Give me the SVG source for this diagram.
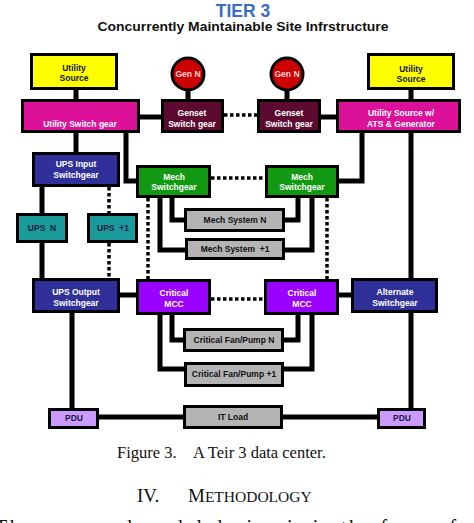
<svg xmlns="http://www.w3.org/2000/svg" width="474" height="523" viewBox="0 0 474 523">
<defs>
<style>
.bx{stroke:#000;stroke-width:3}
.yl{fill:#ffff00}
.mg{fill:#dd1199}
.mr{fill:#5c0a30}
.bl{fill:#30309a}
.gr{fill:#119911}
.tl{fill:#1a9a9a}
.gy{fill:#b4b4b4}
.pu{fill:#9900ff}
.lv{fill:#cc99ff}
.rd{fill:#cc0000}
.t{font-family:"Liberation Sans",Arial,sans-serif;font-weight:bold;font-size:8.5px;text-anchor:middle;dominant-baseline:central}
.w{fill:#ffffff}
.k{fill:#111111}
.n{fill:#1a1a40}
.ln{fill:none;stroke:#000;stroke-width:5}
.dt{fill:none;stroke:#000;stroke-width:3.5;stroke-dasharray:3.5 2.5}
</style>
</defs>
<rect width="474" height="523" fill="#ffffff"/>
<text x="243" y="16.5" font-family="Liberation Sans,Arial,sans-serif" font-weight="bold" font-size="17.5" fill="#3b6cc4" text-anchor="middle">TIER 3</text>
<text x="243" y="31" font-family="Liberation Sans,Arial,sans-serif" font-weight="bold" font-size="12.5" fill="#111" text-anchor="middle" textLength="291" lengthAdjust="spacingAndGlyphs">Concurrently Maintainable Site Infrstructure</text>

<g id="connectors">
<path class="ln" d="M76 90V99M411 90V99M188 91V99M287 91V99"/>
<path class="ln" d="M140 117H161M321 117H336"/>
<path class="ln" d="M76 133V152M126 133V181H136M362 133V181H339M411 133V278"/>
<path class="ln" d="M42 187V213M42 243V278"/>
<path class="ln" d="M172 198V220H184M160 198V250H185M298 198V220H285M312 198V250H285"/>
<path class="ln" d="M120 295H136M339 295H351"/>
<path class="ln" d="M172 315V340H183M160 315V369H184M298 315V340H284M312 315V369H284"/>
<path class="ln" d="M72 313V408M411 313V408M99 417H183M283 417H377"/>
<path class="dt" d="M224 115H257M211 178H265M211 299H264"/>
<path class="dt" d="M109 187V213M109 243V278M148 198V279M327 198V279"/>
</g>

<g id="utility-source-left"><rect class="bx yl" x="31.5" y="54.5" width="85" height="34"/><text class="t k" x="74" y="68">Utility</text><text class="t k" x="74" y="78">Source</text></g>
<g id="utility-source-right"><rect class="bx yl" x="368.5" y="54.5" width="85" height="34"/><text class="t k" x="411" y="69">Utility</text><text class="t k" x="411" y="79">Source</text></g>
<g id="gen-n-left"><circle class="bx rd" cx="188" cy="74" r="16"/><text class="t" fill="#ffd6d6" x="188" y="74">Gen N</text></g>
<g id="gen-n-right"><circle class="bx rd" cx="287" cy="74" r="16"/><text class="t" fill="#ffd6d6" x="287" y="74">Gen N</text></g>
<g id="utility-switch-gear"><rect class="bx mg" x="22.5" y="100.5" width="116" height="31"/><text class="t w" x="80" y="124">Utility Switch gear</text></g>
<g id="genset-switch-gear-left"><rect class="bx mr" x="162.5" y="100.5" width="60" height="31"/><text class="t w" x="192" y="113">Genset</text><text class="t w" x="192" y="124">Switch gear</text></g>
<g id="genset-switch-gear-right"><rect class="bx mr" x="258.5" y="100.5" width="61" height="31"/><text class="t w" x="289" y="113">Genset</text><text class="t w" x="289" y="124">Switch gear</text></g>
<g id="utility-source-ats"><rect class="bx mg" x="337.5" y="100.5" width="122" height="31"/><text class="t w" x="401" y="113">Utility Source w/</text><text class="t w" x="401" y="124">ATS &amp; Generator</text></g>
<g id="ups-input-switchgear"><rect class="bx bl" x="33.5" y="153.5" width="85" height="32"/><text class="t w" x="76" y="164">UPS Input</text><text class="t w" x="76" y="175">Switchgear</text></g>
<g id="mech-switchgear-left"><rect class="bx gr" x="137.5" y="166.5" width="72" height="30"/><text class="t w" x="174" y="177">Mech</text><text class="t w" x="174" y="187">Switchgear</text></g>
<g id="mech-switchgear-right"><rect class="bx gr" x="266.5" y="166.5" width="71" height="30"/><text class="t w" x="302" y="177">Mech</text><text class="t w" x="302" y="187">Switchgear</text></g>
<g id="ups-n"><rect class="bx tl" x="17.5" y="214.5" width="49" height="27"/><text class="t n" x="42" y="228" xml:space="preserve">UPS  N</text></g>
<g id="ups-plus1"><rect class="bx tl" x="88.5" y="214.5" width="48" height="27"/><text class="t n" x="113" y="228" xml:space="preserve">UPS  +1</text></g>
<g id="mech-system-n"><rect class="bx gy" x="185.5" y="209.5" width="98" height="21"/><text class="t k" x="235" y="220">Mech System N</text></g>
<g id="mech-system-plus1"><rect class="bx gy" x="186.5" y="239.5" width="97" height="19"/><text class="t k" x="235" y="249" xml:space="preserve">Mech System  +1</text></g>
<g id="ups-output-switchgear"><rect class="bx bl" x="33.5" y="279.5" width="85" height="32"/><text class="t w" x="76" y="292">UPS Output</text><text class="t w" x="76" y="303">Switchgear</text></g>
<g id="critical-mcc-left"><rect class="bx pu" x="137.5" y="280.5" width="72" height="33"/><text class="t w" x="174" y="293">Critical</text><text class="t w" x="174" y="304">MCC</text></g>
<g id="critical-mcc-right"><rect class="bx pu" x="265.5" y="280.5" width="72" height="33"/><text class="t w" x="302" y="293">Critical</text><text class="t w" x="302" y="304">MCC</text></g>
<g id="alternate-switchgear"><rect class="bx bl" x="352.5" y="279.5" width="84" height="32"/><text class="t w" x="395" y="292">Alternate</text><text class="t w" x="395" y="303">Switchgear</text></g>
<g id="critical-fan-pump-n"><rect class="bx gy" x="184.5" y="329.5" width="98" height="21"/><text class="t k" x="234" y="340">Critical Fan/Pump N</text></g>
<g id="critical-fan-pump-plus1"><rect class="bx gy" x="185.5" y="363.5" width="97" height="22"/><text class="t k" x="234" y="374">Critical Fan/Pump +1</text></g>
<g id="pdu-left"><rect class="bx lv" x="49.5" y="409.5" width="48" height="18"/><text class="t n" x="74" y="418">PDU</text></g>
<g id="pdu-right"><rect class="bx lv" x="378.5" y="409.5" width="46" height="18"/><text class="t n" x="402" y="418">PDU</text></g>
<g id="it-load"><rect class="bx gy" x="184.5" y="406.5" width="97" height="21"/><text class="t k" x="233" y="417" font-weight="normal">IT Load</text></g>

<text font-family="Liberation Serif,Times New Roman,serif" font-size="16.5" fill="#111" y="458"><tspan x="117">Figure 3.</tspan><tspan x="193">A Teir 3 data center.</tspan></text>
<text font-family="Liberation Serif,Times New Roman,serif" fill="#111" y="502"><tspan x="137" font-size="19">IV.</tspan><tspan x="188" font-size="19">M</tspan><tspan font-size="15.5">ETHODOLOGY</tspan></text>
<text font-family="Liberation Serif,Times New Roman,serif" font-size="20" fill="#111" x="-5" y="534" textLength="480" lengthAdjust="spacing">The proposed model design is in the form of a</text>
</svg>
